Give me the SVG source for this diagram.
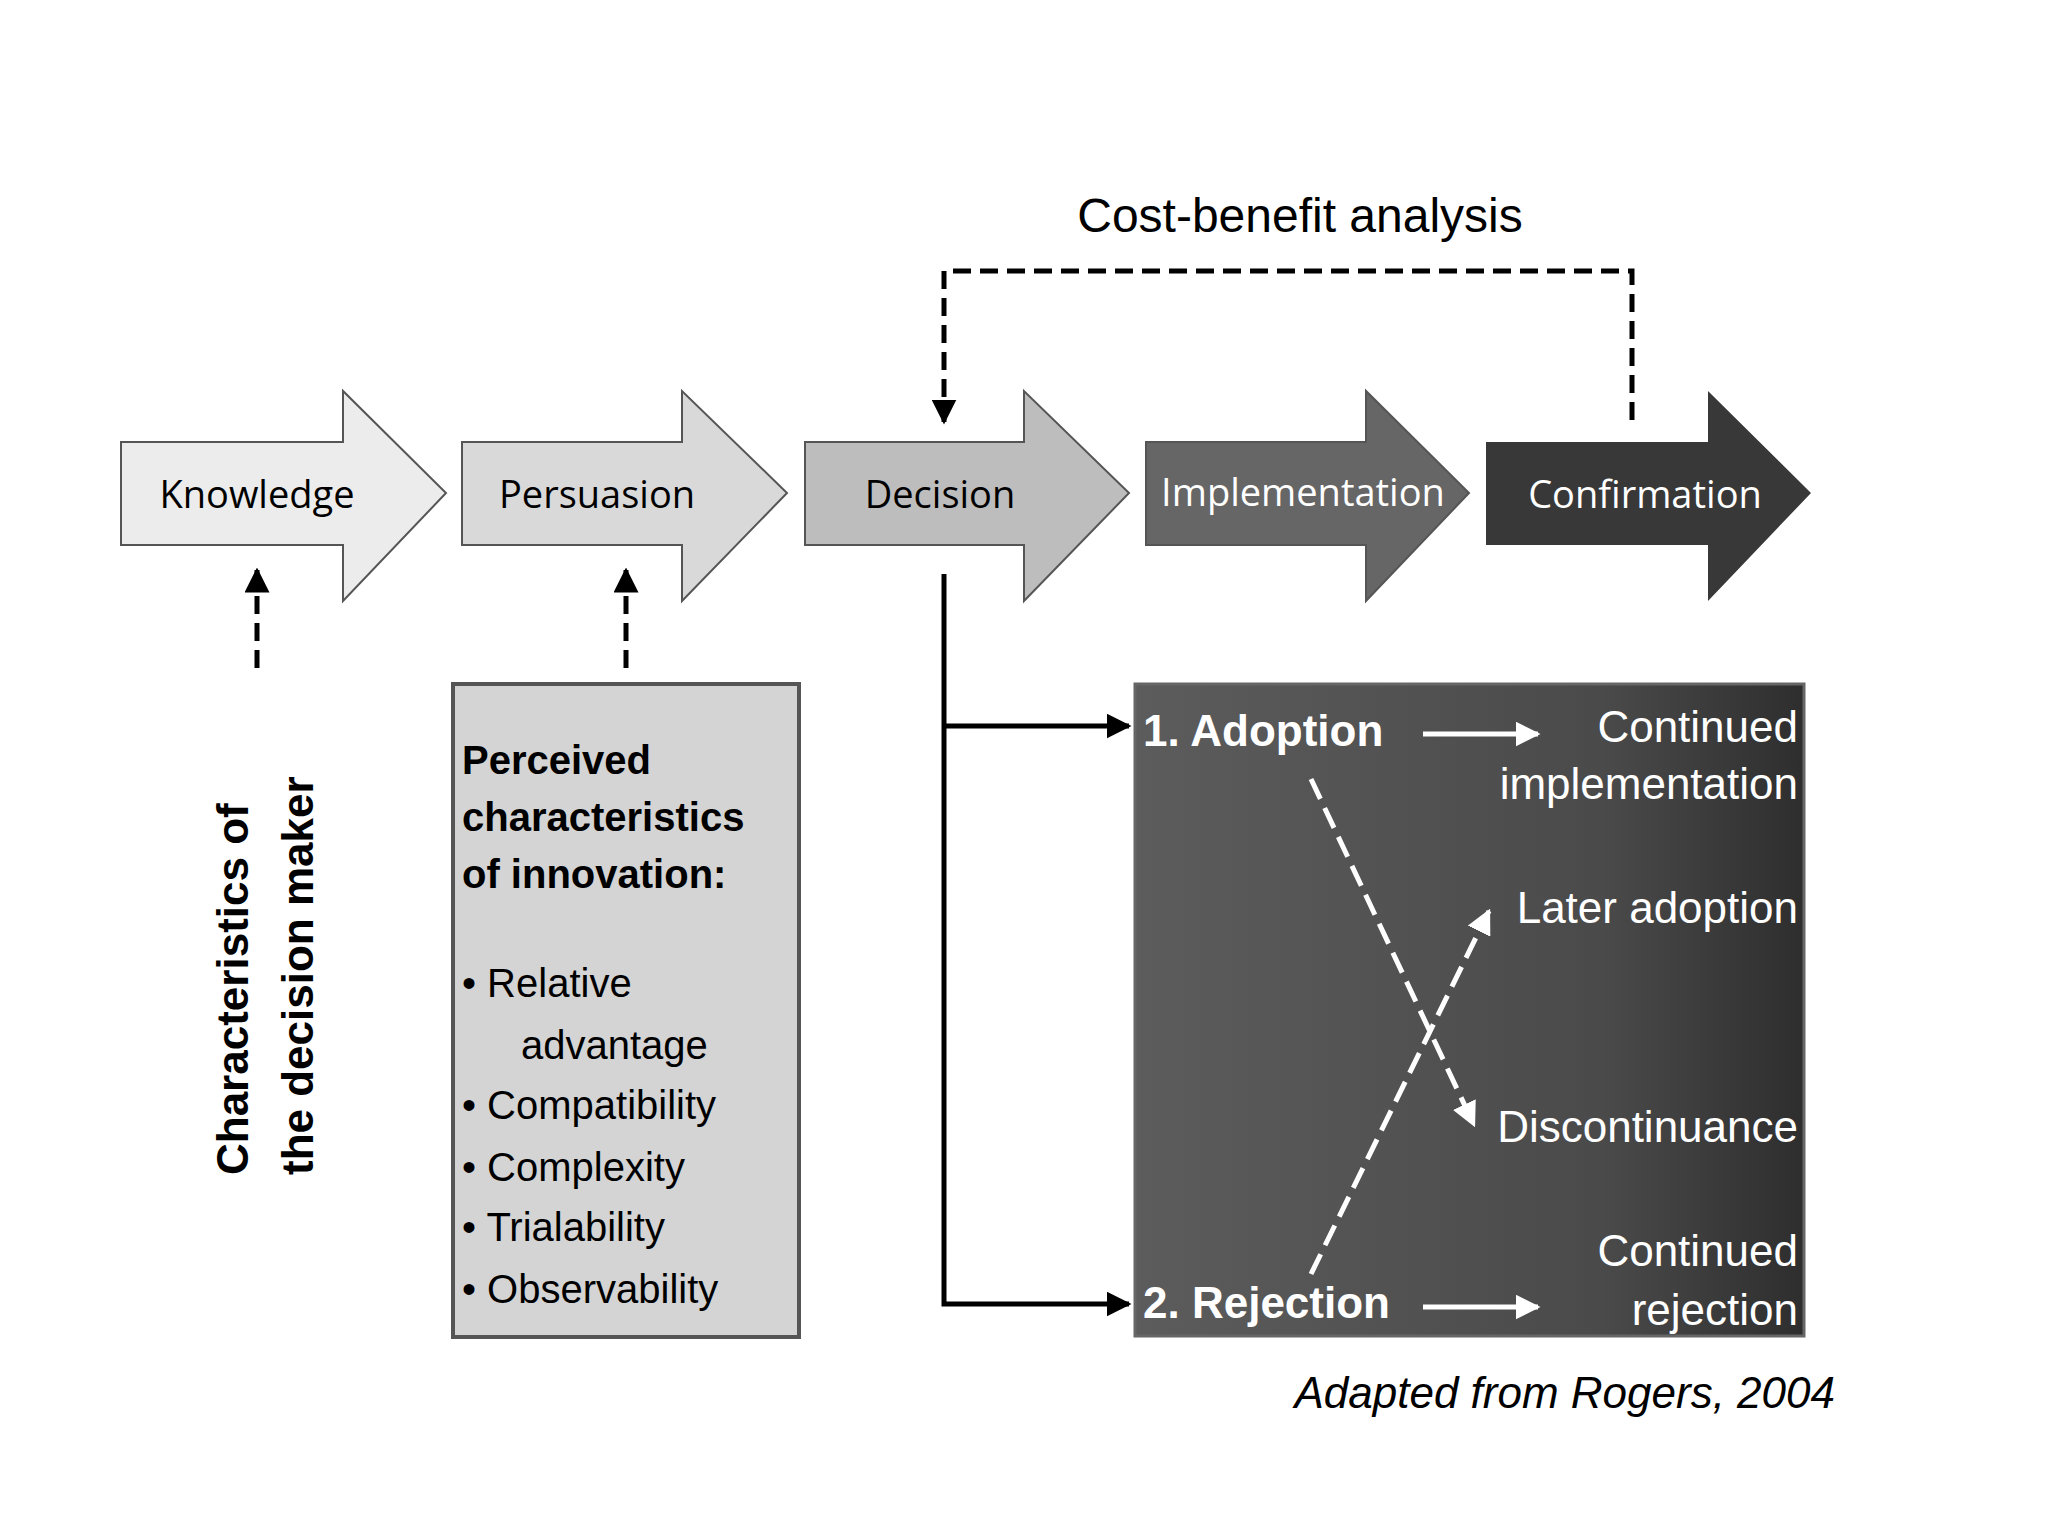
<svg xmlns="http://www.w3.org/2000/svg" width="2048" height="1536" viewBox="0 0 2048 1536">
<style>
.st{font-family:"Liberation Sans",Arial,sans-serif;}
.ar{stroke:#555;stroke-width:2}
.lbl{font-family:"Open Sans","Liberation Sans",sans-serif;font-size:38px;text-anchor:middle}
.w{fill:#fff;font-family:"Liberation Sans",Arial,sans-serif;font-size:44px}
</style>
<defs>
<marker id="ah" viewBox="0 0 10 10" refX="9" refY="5" markerWidth="5" markerHeight="5" orient="auto"><path d="M0,0 L10,5 L0,10 z" fill="#000"/></marker>
<marker id="wh" viewBox="0 0 10 10" refX="9" refY="5" markerWidth="5" markerHeight="5" orient="auto"><path d="M0,0 L10,5 L0,10 z" fill="#fff"/></marker>
<linearGradient id="g" x1="0" y1="0" x2="1" y2="0"><stop offset="0" stop-color="#5c5c5c"/><stop offset="0.7" stop-color="#4a4a4a"/><stop offset="1" stop-color="#2e2e2e"/></linearGradient>
</defs>
<rect width="2048" height="1536" fill="#fff"/>
<g id="knowledge"><path class="ar" d="M121,442 H343 V391 L446,493 L343,601 V545 H121 z" fill="#ececec"/><text class="lbl" x="257" y="508">Knowledge</text></g>
<g id="persuasion"><path class="ar" d="M462,442 H682 V391 L787,493 L682,601 V545 H462 z" fill="#d9d9d9"/><text class="lbl" x="597" y="508">Persuasion</text></g>
<g id="decision"><path class="ar" d="M805,442 H1024 V391 L1129,493 L1024,601 V545 H805 z" fill="#bdbdbd"/><text class="lbl" x="940" y="508">Decision</text></g>
<g id="implementation"><path class="ar" d="M1146,442 H1366 V391 L1469,493 L1366,601 V545 H1146 z" fill="#666"/><text class="lbl" x="1303" y="506" fill="#fff" font-size="40">Implementation</text></g>
<g id="confirmation"><path d="M1486,442 H1708 V391 L1811,493 L1708,601 V545 H1486 z" fill="#383838"/><text class="lbl" x="1645" y="508" fill="#fff" font-size="42">Confirmation</text></g>
<text class="st" x="1300" y="232" font-size="48" text-anchor="middle">Cost-benefit  analysis</text>
<g id="characteristics"><text class="st" font-weight="bold" font-size="44" transform="translate(248,1175) rotate(-90)">Characteristics  of</text><text class="st" font-weight="bold" font-size="44" transform="translate(313,1175) rotate(-90)">the decision maker</text></g>
<g id="perceived"><rect x="453" y="684" width="346" height="653" fill="#d4d4d4" stroke="#555" stroke-width="4"/>
<g class="st" font-size="40"><text font-weight="bold" x="462" y="774">Perceived</text><text font-weight="bold" x="462" y="831">characteristics</text><text font-weight="bold" x="462" y="888">of innovation:</text>
<text x="462" y="997">• Relative</text><text x="521" y="1059">advantage</text><text x="462" y="1119">• Compatibility</text><text x="462" y="1181">• Complexity</text><text x="462" y="1241">• Trialability</text><text x="462" y="1303">• Observability</text></g></g>
<g id="outcomes"><rect x="1135" y="684" width="669" height="652" fill="url(#g)" stroke="#666" stroke-width="3"/>
<text class="w" x="1143" y="746" font-weight="bold">1. Adoption</text><text class="w" x="1143" y="1318" font-weight="bold">2. Rejection</text>
<g text-anchor="end"><text class="w" x="1798" y="742">Continued</text><text class="w" x="1798" y="799">implementation</text><text class="w" x="1798" y="923">Later adoption</text><text class="w" x="1798" y="1142">Discontinuance</text><text class="w" x="1798" y="1266">Continued</text><text class="w" x="1798" y="1325">rejection</text></g></g>
<g id="connectors" fill="none">
<path d="M1632,420 V271 H944 V422" stroke="#000" stroke-width="5" stroke-dasharray="18,9" marker-end="url(#ah)"/>
<path d="M257,668 V570" stroke="#000" stroke-width="5" stroke-dasharray="18,9" marker-end="url(#ah)"/>
<path d="M626,668 V570" stroke="#000" stroke-width="5" stroke-dasharray="18,9" marker-end="url(#ah)"/>
<path d="M944,574 V1304 H1129" stroke="#000" stroke-width="5" marker-end="url(#ah)"/>
<path d="M944,726 H1129" stroke="#000" stroke-width="5" marker-end="url(#ah)"/>
<path d="M1423,734 H1538" stroke="#fff" stroke-width="5" marker-end="url(#wh)"/>
<path d="M1423,1307 H1538" stroke="#fff" stroke-width="5" marker-end="url(#wh)"/>
<path d="M1311,779 L1474,1125" stroke="#fff" stroke-width="5" stroke-dasharray="22,10" marker-end="url(#wh)"/>
<path d="M1311,1274 L1489,911" stroke="#fff" stroke-width="5" stroke-dasharray="22,10" marker-end="url(#wh)"/>
</g>
<text class="st" x="1835" y="1408" font-size="44" font-style="italic" text-anchor="end">Adapted from Rogers, 2004</text>
</svg>
